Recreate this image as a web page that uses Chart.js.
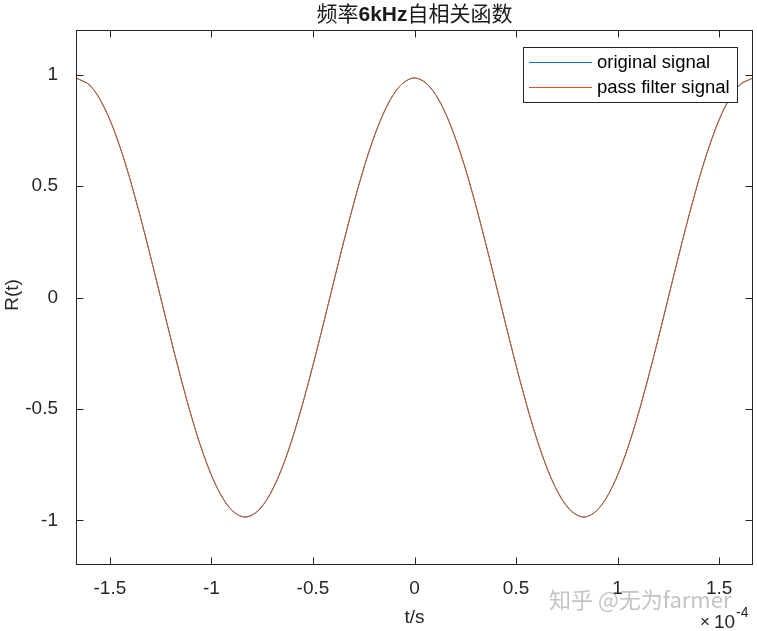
<!DOCTYPE html>
<html lang="zh">
<head>
<meta charset="utf-8">
<title>频率6kHz自相关函数</title>
<script src="https://cdn.jsdelivr.net/npm/chart.js@4.4.0/dist/chart.umd.min.js"></script>
<style>
  html, body { margin: 0; padding: 0; background: #fff; }
  #wrap { width: 757px; height: 631px; }
</style>
</head>
<body>
<div id="wrap"><canvas id="chart" width="757" height="631"></canvas></div>
<script>
// t in units of 1e-4 s (axis shows x10^-4)
var tValues = [
  -1.6667, -1.5972, -1.5278, -1.4583, -1.3889, -1.3194, -1.2500, -1.1806,
  -1.1111, -1.0417, -0.9722, -0.9028, -0.8333, -0.7639, -0.6944, -0.6250,
  -0.5556, -0.4861, -0.4167, -0.3472, -0.2778, -0.2083, -0.1389, -0.0694,
  0,
  0.0694, 0.1389, 0.2083, 0.2778, 0.3472, 0.4167, 0.4861, 0.5556,
  0.6250, 0.6944, 0.7639, 0.8333, 0.9028, 0.9722, 1.0417, 1.1111,
  1.1806, 1.2500, 1.3194, 1.3889, 1.4583, 1.5278, 1.5972, 1.6667
];
var originalR = [
  0.985, 0.951, 0.853, 0.697, 0.493, 0.255, 0.000, -0.255,
  -0.493, -0.697, -0.853, -0.951, -0.985, -0.951, -0.853, -0.697,
  -0.493, -0.255, 0.000, 0.255, 0.493, 0.697, 0.853, 0.951,
  0.985,
  0.951, 0.853, 0.697, 0.493, 0.255, 0.000, -0.255, -0.493,
  -0.697, -0.853, -0.951, -0.985, -0.951, -0.853, -0.697, -0.493,
  -0.255, 0.000, 0.255, 0.493, 0.697, 0.853, 0.951, 0.985
];
var filterR = [
  0.985, 0.951, 0.853, 0.697, 0.493, 0.255, 0.000, -0.255,
  -0.493, -0.697, -0.853, -0.951, -0.985, -0.951, -0.853, -0.697,
  -0.493, -0.255, 0.000, 0.255, 0.493, 0.697, 0.853, 0.951,
  0.985,
  0.951, 0.853, 0.697, 0.493, 0.255, 0.000, -0.255, -0.493,
  -0.697, -0.853, -0.951, -0.985, -0.951, -0.853, -0.697, -0.493,
  -0.255, 0.000, 0.255, 0.493, 0.697, 0.853, 0.951, 0.985
];
var xTicks = [-1.5, -1, -0.5, 0, 0.5, 1, 1.5];
var yTicks = [-1, -0.5, 0, 0.5, 1];
var seriesNames = ['original signal', 'pass filter signal'];
var seriesColors = ['#0072BD', '#D95319'];

function toPoints(xs, ys) {
  return xs.map(function (x, i) { return { x: x, y: ys[i] }; });
}

var AXIS = '#262626';
var SANS = '"Liberation Sans", Arial, sans-serif';
var CJK = '"Noto Sans CJK SC", sans-serif';

var decor = {
  id: 'decor',
  afterDraw: function (chart) {
    var ctx = chart.ctx, a = chart.chartArea;
    var xs = chart.scales.x, ys = chart.scales.y;
    var L = Math.round(a.left) + 0.5, R = Math.round(a.right) - 0.5;
    var T = Math.round(a.top) + 0.5, B = Math.round(a.bottom) - 0.5;
    ctx.save();
    // box
    ctx.strokeStyle = AXIS;
    ctx.lineWidth = 1;
    ctx.strokeRect(L, T, R - L, B - T);
    // inward ticks
    ctx.beginPath();
    xTicks.forEach(function (v) {
      var px = Math.round(xs.getPixelForValue(v)) + 0.5;
      ctx.moveTo(px, B); ctx.lineTo(px, B - 7);
      ctx.moveTo(px, T); ctx.lineTo(px, T + 7);
    });
    yTicks.forEach(function (v) {
      var py = Math.round(ys.getPixelForValue(v)) + 0.5;
      ctx.moveTo(L, py); ctx.lineTo(L + 7, py);
      ctx.moveTo(R, py); ctx.lineTo(R - 7, py);
    });
    ctx.stroke();

    // legend
    var lx = 523.5, ly = 47.5, lw = 214, lh = 55;
    ctx.fillStyle = '#fff';
    ctx.fillRect(lx, ly, lw, lh);
    ctx.strokeStyle = AXIS;
    ctx.strokeRect(lx, ly, lw, lh);
    ctx.font = '18.5px ' + SANS;
    ctx.textBaseline = 'middle';
    ctx.textAlign = 'left';
    seriesNames.forEach(function (name, i) {
      var y = 62 + i * 25;
      ctx.strokeStyle = seriesColors[i];
      ctx.lineWidth = 1;
      ctx.beginPath();
      ctx.moveTo(529, y + 0.5); ctx.lineTo(592, y + 0.5);
      ctx.stroke();
      ctx.fillStyle = '#000';
      ctx.fillText(name, 597, y + 1);
    });

    // title with mixed fonts
    var parts = [['频率', '21px ' + CJK], ['6kHz', 'bold 21px ' + SANS], ['自相关函数', '21px ' + CJK]];
    var total = 0;
    parts.forEach(function (p) { ctx.font = p[1]; total += ctx.measureText(p[0]).width; });
    var cx = (a.left + a.right) / 2 - total / 2;
    ctx.fillStyle = '#1a1a1a';
    ctx.textBaseline = 'alphabetic';
    parts.forEach(function (p) {
      ctx.font = p[1];
      ctx.fillText(p[0], cx, 21);
      cx += ctx.measureText(p[0]).width;
    });

    // axis labels
    ctx.fillStyle = AXIS;
    ctx.font = '19px ' + SANS;
    ctx.textAlign = 'center';
    ctx.textBaseline = 'middle';
    ctx.fillText('t/s', (a.left + a.right) / 2, 618);
    ctx.save();
    ctx.translate(13, 295);
    ctx.rotate(-Math.PI / 2);
    ctx.fillText('R(t)', 0, 0);
    ctx.restore();

    // exponent label
    ctx.textAlign = 'left';
    ctx.textBaseline = 'alphabetic';
    ctx.font = '17px ' + SANS;
    ctx.fillText('\u00d7', 700, 627);
    ctx.font = '19px ' + SANS;
    ctx.fillText('10', 714, 628);
    ctx.font = '14px ' + SANS;
    ctx.fillText('-4', 736, 617);

    // watermark
    ctx.font = '22px ' + CJK;
    ctx.textBaseline = 'middle';
    ctx.fillStyle = 'rgba(175,175,175,0.75)';
    ctx.fillText('知乎 @无为farmer', 549, 600);
    ctx.restore();
  }
};

new Chart(document.getElementById('chart'), {
  type: 'line',
  data: {
    datasets: [{
      label: seriesNames[0],
      data: toPoints(tValues, originalR),
      borderColor: seriesColors[0],
      borderWidth: 1,
      pointRadius: 0,
      tension: 0.33,
      fill: false,
      order: 2
    }, {
      label: seriesNames[1],
      data: toPoints(tValues, filterR),
      borderColor: seriesColors[1],
      borderWidth: 1,
      pointRadius: 0,
      tension: 0.33,
      fill: false,
      order: 1
    }]
  },
  options: {
    responsive: false,
    animation: false,
    layout: { padding: { top: 30, right: 4, left: 0, bottom: 0 } },
    plugins: {
      legend: { display: false },
      title: { display: false },
      tooltip: { enabled: false }
    },
    scales: {
      x: {
        type: 'linear',
        min: -1.6667,
        max: 1.6667,
        afterBuildTicks: function (s) { s.ticks = xTicks.map(function (v) { return { value: v }; }); },
        afterFit: function (s) { s.height = 66; },
        grid: { display: false },
        border: { display: false },
        ticks: {
          padding: 4,
          color: AXIS,
          font: { family: SANS, size: 19 },
          maxRotation: 0,
          callback: function (v) { return String(v); }
        }
      },
      y: {
        min: -1.2,
        max: 1.2,
        afterBuildTicks: function (s) { s.ticks = yTicks.map(function (v) { return { value: v }; }); },
        afterFit: function (s) { s.width = 76; },
        grid: { display: false },
        border: { display: false },
        ticks: {
          padding: 10,
          color: AXIS,
          font: { family: SANS, size: 19 },
          callback: function (v) { return String(v); }
        }
      }
    }
  },
  plugins: [decor]
});
</script>
</body>
</html>
